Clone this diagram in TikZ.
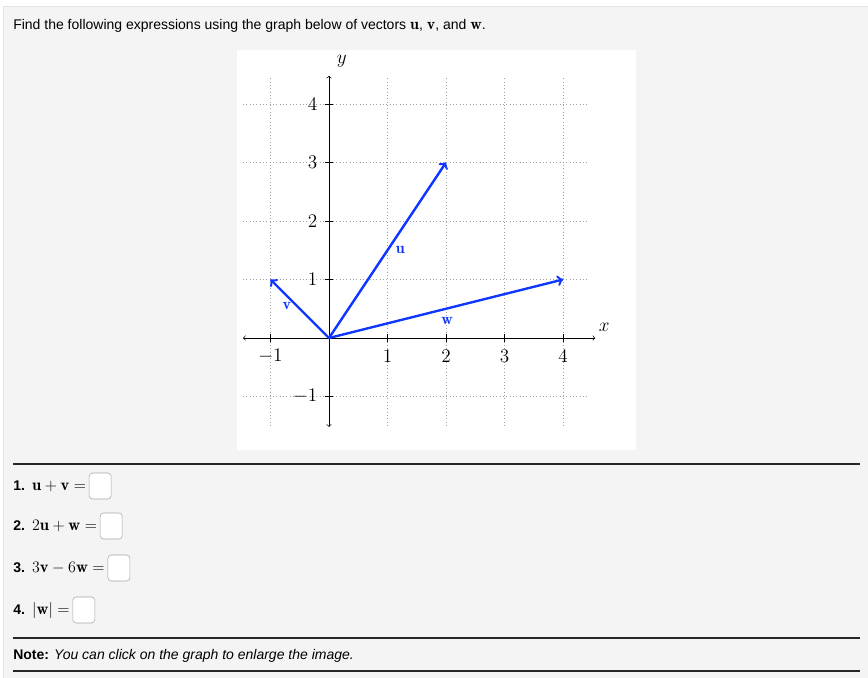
\documentclass[tikz,border=0pt]{standalone}
\usepackage{fontspec}
\usepackage{amsmath}
\usetikzlibrary{positioning}
\newfontfamily\arial{Liberation Sans}
\definecolor{panelgrey}{RGB}{244,244,244}
\definecolor{edgegrey}{RGB}{228,228,228}
\definecolor{vecblue}{RGB}{15,55,255}
\tikzset{
    gridline/.style={gray!75, dotted, line width=0.5pt},
    vecline/.style={vecblue, line width=1.8pt, ->},
    veclabel/.style={text=vecblue, font=\fontsize{12}{14}\selectfont},
    ticklabel/.style={font=\fontsize{13.5}{16}\selectfont},
    answerbox/.style={draw=gray!70, fill=white, rounded corners=2.5pt, minimum width=16.5pt, minimum height=19.5pt, inner sep=0pt},
    question/.style={anchor=west, inner sep=0pt, font=\fontsize{12.4}{15}\selectfont},
    rule/.style={black!85, line width=0.8pt}
}
\newcommand{\qnum}[1]{{\arial\fontsize{10.5}{12}\selectfont\bfseries #1}}
\newcommand{\bvec}[1]{{\fontsize{12}{12}\selectfont$\mathbf{#1}$}}
\begin{document}
\begin{tikzpicture}[x=0.75pt, y=-0.75pt]
    \useasboundingbox (0,0) rectangle (868,678);
    \fill[white] (0,0) rectangle (868,678);
    \draw[edgegrey, fill=panelgrey] (3,6) rectangle (870,680);

    \node[anchor=west, inner sep=0pt, font=\arial\fontsize{10.5}{12}\selectfont] (title) at (13,26)
        {Find the following expressions using the graph below of vectors \bvec{u}, \bvec{v}, and \bvec{w}.};

    % graph
    \fill[white] (237,50) rectangle (636,450);
    \begin{scope}[shift={(329,338)}, x=43.9pt, y=43.9pt]
        \foreach \i in {-1,1,2,3,4}
            \draw[gridline] (-1.47,\i) -- (4.44,\i);
        \foreach \i in {-1,1,2,3,4}
            \draw[gridline] (\i,-1.5) -- (\i,4.45);
        \draw[<->, line width=0.5pt] (-1.47,0) -- (4.55,0);
        \draw[<->, line width=0.5pt] (0,-1.52) -- (0,4.48);
        \foreach \i in {-1,1,2,3,4} {
            \draw[line width=0.5pt] (\i,-0.06) -- (\i,0.06);
            \node[ticklabel] (xt\i) at (\i,-0.31) {$\i$};
        }
        \foreach \i in {-1,1,2,3,4} {
            \draw[line width=0.5pt] (-0.06,\i) -- (0.06,\i);
            \node[ticklabel, anchor=east] (yt\i) at (-0.12,\i) {$\i$};
        }
        \node[ticklabel] (xlab) at (4.7,0.19) {$x$};
        \node[ticklabel] (ylab) at (0.22,4.72) {$y$};

        \coordinate (O) at (0,0);
        \coordinate (U) at (2,3);
        \coordinate (V) at (-1,1);
        \coordinate (W) at (4,1);
        \draw[vecline] (O) -- (U);
        \draw[vecline] (O) -- (V);
        \draw[vecline] (O) -- (W);
        \node[veclabel] (ulab) at (1.22,1.5) {$\mathbf{u}$};
        \node[veclabel] (vlab) at (-0.72,0.55) {$\mathbf{v}$};
        \node[veclabel] (wlab) at (2.02,0.29) {$\mathbf{w}$};
    \end{scope}

    % questions
    \draw[rule] (13,464) -- (860,464);
    \node[question] (q1) at (13,486) {\qnum{1.} $\mathbf{u}+\mathbf{v}=$};
    \node[answerbox, right=2pt of q1] (a1) {};
    \node[question] (q2) at (13,526) {\qnum{2.} $2\mathbf{u}+\mathbf{w}=$};
    \node[answerbox, right=2pt of q2] (a2) {};
    \node[question] (q3) at (13,568) {\qnum{3.} $3\mathbf{v}-6\mathbf{w}=$};
    \node[answerbox, right=2pt of q3] (a3) {};
    \node[question] (q4) at (13,610) {\qnum{4.} $|\mathbf{w}|=$};
    \node[answerbox, right=2pt of q4] (a4) {};

    % note
    \draw[rule] (13,638) -- (860,638);
    \node[anchor=west, inner sep=0pt, font=\arial\fontsize{10.5}{12}\selectfont] (note) at (13,656)
        {\textbf{Note:} \textit{You can click on the graph to enlarge the image.}};
    \draw[rule] (13,671) -- (860,671);
\end{tikzpicture}
\end{document}
